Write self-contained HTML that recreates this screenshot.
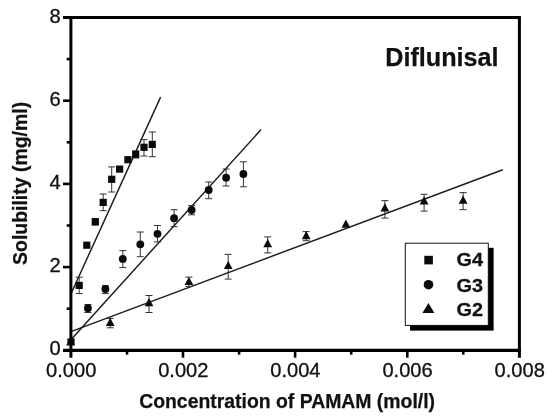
<!DOCTYPE html>
<html><head><meta charset="utf-8"><title>Diflunisal solubility</title>
<style>
html,body{margin:0;padding:0;background:#fff;}
svg{display:block;}
text{font-family:"Liberation Sans",Arial,Helvetica,sans-serif;fill:#111;}
.b{font-weight:bold;stroke:#111;stroke-width:0.25px;}
</style></head><body>
<svg width="550" height="419" viewBox="0 0 550 419">
<rect width="550" height="419" fill="#fff"/>

<g stroke="#1c1c1c" stroke-width="1.45" fill="none" stroke-linecap="butt">
<line x1="70.9" y1="294" x2="160.6" y2="97.1"/>
<line x1="70.9" y1="339.8" x2="261.1" y2="129.6"/>
<line x1="70.9" y1="331.6" x2="502.8" y2="169.7"/>
</g>
<g stroke="#2a2a2a" stroke-width="0.95" fill="none">
<path d="M79.2 277.2V293.6M75.7 277.2h7M75.7 293.6h7"/>
<path d="M95.3 218.5V225.0M91.8 218.5h7M91.8 225.0h7"/>
<path d="M103.2 194.0V210.7M99.7 194.0h7M99.7 210.7h7"/>
<path d="M111.7 166.9V192.0M108.2 166.9h7M108.2 192.0h7"/>
<path d="M135.7 151.0V158.0M132.2 151.0h7M132.2 158.0h7"/>
<path d="M144.0 139.6V156.0M140.5 139.6h7M140.5 156.0h7"/>
<path d="M152.3 132.0V156.7M148.8 132.0h7M148.8 156.7h7"/>
<path d="M87.9 304.5V312.5M84.4 304.5h7M84.4 312.5h7"/>
<path d="M105.4 285.7V293.6M101.9 285.7h7M101.9 293.6h7"/>
<path d="M122.8 250.6V267.6M119.3 250.6h7M119.3 267.6h7"/>
<path d="M140.3 232.0V256.7M136.8 232.0h7M136.8 256.7h7"/>
<path d="M157.5 225.5V241.9M154.0 225.5h7M154.0 241.9h7"/>
<path d="M174.1 209.7V226.7M170.6 209.7h7M170.6 226.7h7"/>
<path d="M191.6 205.6V214.8M188.1 205.6h7M188.1 214.8h7"/>
<path d="M208.7 182.0V198.7M205.2 182.0h7M205.2 198.7h7"/>
<path d="M226.1 169.0V186.0M222.6 169.0h7M222.6 186.0h7"/>
<path d="M243.4 161.8V186.8M239.9 161.8h7M239.9 186.8h7"/>
<path d="M110.2 318.4V327.8M106.7 318.4h7M106.7 327.8h7"/>
<path d="M149.0 295.5V312.5M145.5 295.5h7M145.5 312.5h7"/>
<path d="M188.9 277.1V286.4M185.4 277.1h7M185.4 286.4h7"/>
<path d="M228.2 254.4V279.1M224.7 254.4h7M224.7 279.1h7"/>
<path d="M267.7 236.9V252.9M264.2 236.9h7M264.2 252.9h7"/>
<path d="M306.2 231.6V240.7M302.7 231.6h7M302.7 240.7h7"/>
<path d="M384.9 200.6V218.1M381.4 200.6h7M381.4 218.1h7"/>
<path d="M424.1 194.3V211.1M420.6 194.3h7M420.6 211.1h7"/>
<path d="M463.1 192.6V209.6M459.6 192.6h7M459.6 209.6h7"/>
</g>
<g fill="#0a0a0a">
<rect x="75.6" y="281.8" width="7.2" height="7.2"/>
<rect x="83.2" y="241.6" width="7.2" height="7.2"/>
<rect x="91.7" y="218.2" width="7.2" height="7.2"/>
<rect x="99.6" y="198.8" width="7.2" height="7.2"/>
<rect x="108.1" y="175.7" width="7.2" height="7.2"/>
<rect x="116.0" y="165.5" width="7.2" height="7.2"/>
<rect x="124.3" y="156.1" width="7.2" height="7.2"/>
<rect x="132.1" y="150.7" width="7.2" height="7.2"/>
<rect x="140.4" y="143.7" width="7.2" height="7.2"/>
<rect x="148.7" y="140.8" width="7.2" height="7.2"/>
<rect x="67.4" y="338.4" width="7.2" height="6.6"/>
<circle cx="87.9" cy="308.2" r="3.9"/>
<circle cx="105.4" cy="289.0" r="3.9"/>
<circle cx="122.8" cy="258.9" r="3.9"/>
<circle cx="140.3" cy="244.3" r="3.9"/>
<circle cx="157.5" cy="233.8" r="3.9"/>
<circle cx="174.1" cy="218.2" r="3.9"/>
<circle cx="191.6" cy="210.0" r="3.9"/>
<circle cx="208.7" cy="190.0" r="3.9"/>
<circle cx="226.1" cy="177.7" r="3.9"/>
<circle cx="243.4" cy="174.0" r="3.9"/>
<path d="M70.6 337.4L75.0 345.6H66.2Z"/>
<path d="M110.2 317.8L114.6 326.0H105.8Z"/>
<path d="M149.0 298.1L153.4 306.3H144.6Z"/>
<path d="M188.9 276.9L193.3 285.1H184.5Z"/>
<path d="M228.2 260.9L232.6 269.1H223.8Z"/>
<path d="M267.7 239.0L272.1 247.2H263.3Z"/>
<path d="M306.2 231.1L310.6 239.3H301.8Z"/>
<path d="M345.9 219.6L350.3 227.8H341.5Z"/>
<path d="M384.9 203.2L389.3 211.4H380.5Z"/>
<path d="M424.1 196.3L428.5 204.5H419.7Z"/>
<path d="M463.1 195.6L467.5 203.8H458.7Z"/>
</g>
<g stroke="#000" stroke-width="3" fill="none">
<path d="M63 17.5H520.9"/>
<path d="M519.4 17.5V357.7"/>
<path d="M63 350.3H520.9" stroke-width="3.2"/>
<path d="M70.9 16.0V357.7"/>
</g>
<g stroke="#000" stroke-width="2.6" fill="none">
<path d="M63 267.1H70.9"/>
<path d="M63 183.9H70.9"/>
<path d="M63 100.7H70.9"/>
<path d="M66.7 308.7H70.9"/>
<path d="M66.7 225.5H70.9"/>
<path d="M66.7 142.3H70.9"/>
<path d="M66.7 59.1H70.9"/>
<path d="M183.0 350.3V357.7"/>
<path d="M295.1 350.3V357.7"/>
<path d="M407.3 350.3V357.7"/>
<path d="M127.0 350.3V354.6"/>
<path d="M239.1 350.3V354.6"/>
<path d="M351.2 350.3V354.6"/>
<path d="M463.3 350.3V354.6"/>
</g>
<g font-size="20.1" stroke="#111" stroke-width="0.3">
<text x="60.8" y="355.0" text-anchor="end">0</text>
<text x="60.8" y="272.1" text-anchor="end">2</text>
<text x="60.8" y="189.1" text-anchor="end">4</text>
<text x="60.8" y="106.2" text-anchor="end">6</text>
<text x="60.8" y="23.2" text-anchor="end">8</text>
<text x="71.2" y="376.7" text-anchor="middle">0.000</text>
<text x="183.3" y="376.7" text-anchor="middle">0.002</text>
<text x="295.4" y="376.7" text-anchor="middle">0.004</text>
<text x="407.6" y="376.7" text-anchor="middle">0.006</text>
<text x="519.7" y="376.7" text-anchor="middle">0.008</text>
</g>
<text class="b" font-size="19.4" x="287.1" y="408" text-anchor="middle">Concentration of PAMAM (mol/l)</text>
<text class="b" font-size="19.45" transform="translate(27.4 183.4) rotate(-90)" text-anchor="middle">Solubility (mg/ml)</text>
<text class="b" font-size="25.2" x="441.9" y="66.3" text-anchor="middle">Diflunisal</text>
<rect x="410" y="247.8" width="83.6" height="82.8" fill="#000"/>
<rect x="405.3" y="243.2" width="83" height="82.2" fill="#fff" stroke="#111" stroke-width="1"/>
<rect x="424.3" y="255.8" width="8.6" height="8.6" fill="#0a0a0a"/>
<circle cx="428.5" cy="284.7" r="4.8" fill="#0a0a0a"/>
<path d="M428.4 303L434.4 312.9H422.4Z" fill="#0a0a0a"/>
<text class="b" font-size="18.8" transform="translate(456.6 266.4) scale(1.06 1)">G4</text>
<text class="b" font-size="18.8" transform="translate(456.6 291.7) scale(1.06 1)">G3</text>
<text class="b" font-size="18.8" transform="translate(456.6 316.1) scale(1.06 1)">G2</text>
</svg>
</body></html>
